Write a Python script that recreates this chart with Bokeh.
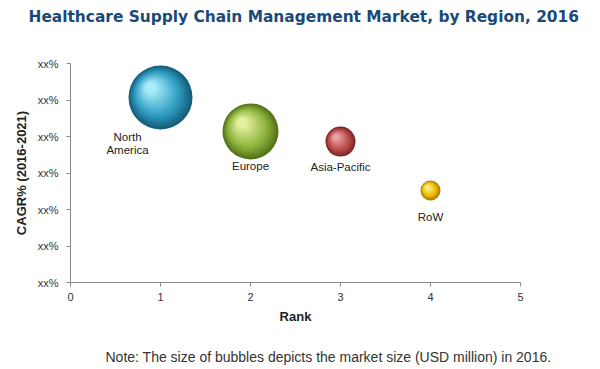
import numpy as np
from bokeh.plotting import figure
from bokeh.models import ColumnDataSource, FixedTicker, Title
from bokeh.core.properties import value
from bokeh.embed import file_html
from bokeh.resources import INLINE

# ---- data ----
regions = ["North America", "Europe", "Asia-Pacific", "RoW"]
label_texts = ["North\nAmerica", "Europe", "Asia-Pacific", "RoW"]
rank = [1, 2, 3, 4]
cagr = [5.07, 4.14, 3.86, 2.52]          # position on the (unlabelled) CAGR axis
market_size = [1024, 784, 225, 100]      # relative market size (bubble area)
y_ticks = [0, 1, 2, 3, 4, 5, 6]
y_tick_labels = ["xx%"] * 7
x_ticks = [0, 1, 2, 3, 4, 5]

# ---- styles ----
base_colors = ["#2f9cc2", "#8fb43c", "#b94c4c", "#e9b800"]
dark_colors = ["#17607c", "#557519", "#7d2626", "#a77c00"]
light_colors = ["#a8ecfa", "#e3f0a0", "#eaa3a3", "#fff27c"]
label_dx = [-33, 0, 0, 0]
label_gap = [2, 1, 4, 10]

W, H = 600, 369
BL, BR, BT, BB = 70, 80, 63, 87
p = figure(width=W, height=H, x_range=(0, 5), y_range=(0, 6),
           output_backend="svg", toolbar_location=None,
           min_border_left=BL, min_border_right=BR, min_border_top=BT,
           min_border_bottom=BB)
p.background_fill_color = "white"
p.border_fill_color = "white"
p.outline_line_color = None
p.xgrid.visible = False
p.ygrid.visible = False

p.title.text = "Healthcare Supply Chain Management Market, by Region, 2016"
p.title.text_font = "DejaVu Sans"
p.title.text_font_size = "15.4px"
p.title.text_font_style = "bold"
p.title.text_color = "#1b4a78"
p.title.align = "left"
p.title.offset = -42
p.title.vertical_align = "top"
p.title.standoff = 0
p.title.padding = dict(left=0, right=0, top=0, bottom=36)

note = Title(text="Note: The size of bubbles depicts the market size (USD million) in 2016.",
             text_font="Liberation Sans", text_font_size="14px",
             text_font_style="normal", text_color="#333333", align="left",
             offset=35, standoff=0, vertical_align="top",
             padding=dict(left=0, right=0, top=22, bottom=0))
p.add_layout(note, "below")

for ax in (p.xaxis[0], p.yaxis[0]):
    ax.axis_line_color = "#8a8a8a"
    ax.major_tick_line_color = "#8a8a8a"
    ax.major_tick_out = 4
    ax.major_tick_in = 0
    ax.minor_tick_line_color = None
    ax.major_label_text_font = "Liberation Sans"
    ax.major_label_text_font_size = "11px"
    ax.major_label_text_color = "#333333"
    ax.axis_label_text_font = "Liberation Sans"
    ax.axis_label_text_font_size = "13px"
    ax.axis_label_text_font_style = "bold"
    ax.axis_label_text_color = "#222222"

p.xaxis.ticker = FixedTicker(ticks=x_ticks)
p.yaxis.ticker = FixedTicker(ticks=y_ticks)
p.yaxis.major_label_overrides = {t: l for t, l in zip(y_ticks, y_tick_labels)}
p.xaxis.axis_label = "Rank"
p.yaxis.axis_label = "CAGR% (2016-2021)"
p.xaxis.major_label_standoff = 6
p.yaxis.major_label_standoff = 8
p.xaxis.axis_label_standoff = 5
p.yaxis.axis_label_standoff = 6

# ---- bubbles with layered shading ----
def hex2rgb(h):
    h = h.lstrip("#")
    return np.array([int(h[i:i + 2], 16) for i in (0, 2, 4)], dtype=float)

def mix(a, b, t):
    c = a + (b - a) * t
    return "#%02x%02x%02x" % tuple(int(round(v)) for v in c)

radius_px = [np.sqrt(s) for s in market_size]
px_per_x = (W - BL - BR) / 5.0
px_per_y = (H - BT - BB) / 6.0

n_layers = 14
for i in range(len(regions)):
    r = radius_px[i]
    base, dark, light = hex2rgb(base_colors[i]), hex2rgb(dark_colors[i]), hex2rgb(light_colors[i])
    xs, ys, sizes, cols = [], [], [], []
    for k in range(n_layers):
        t = k / (n_layers - 1)
        rr = r * (1 - 0.82 * t)
        off = 0.30 * r * t
        xs.append(rank[i] - off / px_per_x)
        ys.append(cagr[i] + off / px_per_y)
        sizes.append(2 * rr)
        if t < 0.35:
            col = mix(dark, base, t / 0.35)
        else:
            col = mix(base, light, (t - 0.35) / 0.65)
        cols.append(col)
    src = ColumnDataSource(dict(x=xs, y=ys, size=sizes, color=cols))
    p.scatter("x", "y", size="size", fill_color="color", line_color=None,
              fill_alpha=1.0, source=src)

lab_src = ColumnDataSource(dict(x=rank, y=cagr, text=label_texts,
                                yoff=[r + g for r, g in zip(radius_px, label_gap)],
                                xoff=label_dx))
p.text("x", "y", text="text", source=lab_src, x_offset="xoff", y_offset="yoff",
       text_align="center", text_baseline="top",
       text_font=value("Liberation Sans"), text_font_size="11.5px",
       text_color="#222222", text_line_height=1.05)

open("out.html", "w").write(file_html(p, INLINE))
